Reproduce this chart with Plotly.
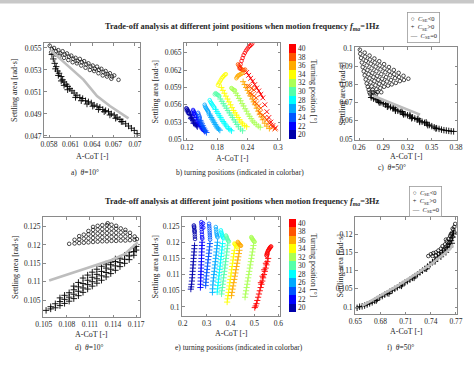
import plotly.graph_objects as go

W, H = 474, 368
FONT = "Liberation Serif, Times New Roman, serif"
TXT = "#262626"
AX_COL = "#8a8a8a"
GRAY_LINE = "#bdbdbd"

# ---------------- tick labels ----------------
A_XT = [0.058, 0.061, 0.064, 0.067, 0.070]
A_XL = ["0.058", "0.061", "0.064", "0.067", "0.07"]
A_YT = [0.047, 0.049, 0.051, 0.053, 0.055]
A_YL = ["0.047", "0.049", "0.051", "0.053", "0.055"]
B_XT = [0.12, 0.18, 0.24, 0.30]
B_XL = ["0.12", "0.18", "0.24", "0.3"]
B_YT = [0.050, 0.053, 0.056, 0.059, 0.062, 0.065]
B_YL = ["0.05", "0.053", "0.056", "0.059", "0.062", "0.065"]
C_XT = [0.26, 0.29, 0.32, 0.35, 0.38]
C_XL = ["0.26", "0.29", "0.32", "0.35", "0.38"]
C_YT = [0.05, 0.06, 0.07, 0.08, 0.09, 0.10]
C_YL = ["0.05", "0.06", "0.07", "0.08", "0.09", "0.1"]
D_XT = [0.105, 0.108, 0.111, 0.114, 0.117]
D_XL = ["0.105", "0.108", "0.111", "0.114", "0.117"]
D_YT = [0.105, 0.110, 0.115, 0.120, 0.125]
D_YL = ["0.105", "0.11", "0.115", "0.12", "0.125"]
E_XT = [0.2, 0.3, 0.4, 0.5, 0.6]
E_XL = ["0.2", "0.3", "0.4", "0.5", "0.6"]
E_YT = [0.100, 0.105, 0.110, 0.115, 0.120, 0.125]
E_YL = ["0.1", "0.105", "0.11", "0.115", "0.12", "0.125"]
F_XT = [0.65, 0.68, 0.71, 0.74, 0.77]
F_XL = ["0.65", "0.68", "0.71", "0.74", "0.77"]
F_YT = [0.100, 0.105, 0.110, 0.115, 0.120]
F_YL = ["0.1", "0.105", "0.11", "0.115", "0.12"]
CB_T = [20, 22, 24, 26, 28, 30, 32, 34, 36, 38, 40]

# ---------------- panel a (1Hz, theta=10) ----------------
A_CIRC = [(0.0581, 0.0552), (0.0587, 0.0550), (0.0593, 0.0548), (0.0599, 0.0547), (0.0605, 0.0545),
          (0.0611, 0.0543), (0.0617, 0.0541), (0.0623, 0.0540), (0.0629, 0.0538), (0.0635, 0.0536),
          (0.0641, 0.0534), (0.0647, 0.0533), (0.0653, 0.0531), (0.0659, 0.0529), (0.0665, 0.0527),
          (0.0671, 0.0525),
          (0.0584, 0.0549), (0.0590, 0.0547), (0.0596, 0.0545), (0.0602, 0.0544), (0.0608, 0.0542),
          (0.0614, 0.0540), (0.0620, 0.0538), (0.0626, 0.0537), (0.0632, 0.0535), (0.0638, 0.0533),
          (0.0644, 0.0531), (0.0650, 0.0530), (0.0656, 0.0528), (0.0662, 0.0526), (0.0668, 0.0524),
          (0.0583, 0.0546), (0.0589, 0.0544), (0.0595, 0.0543), (0.0601, 0.0541), (0.0607, 0.0539),
          (0.0613, 0.0537), (0.0619, 0.0536), (0.0625, 0.0534), (0.0631, 0.0532), (0.0637, 0.0530),
          (0.0643, 0.0529), (0.0649, 0.0527), (0.0655, 0.0525), (0.0661, 0.0524), (0.0667, 0.0522),
          (0.0677, 0.0521)]
A_PLUS = [(0.0584, 0.0544), (0.0586, 0.0540), (0.0588, 0.0536), (0.0590, 0.0533), (0.0592, 0.0529),
          (0.0594, 0.0527), (0.0597, 0.0524), (0.0599, 0.0521), (0.0601, 0.0519), (0.0604, 0.0517),
          (0.0606, 0.0515), (0.0609, 0.0513), (0.0612, 0.0511),
          (0.0589, 0.0531), (0.0593, 0.0525), (0.0597, 0.0520), (0.0601, 0.0516), (0.0606, 0.0512),
          (0.0615, 0.0509), (0.0619, 0.0507), (0.0623, 0.0505), (0.0627, 0.0504), (0.0631, 0.0502),
          (0.0635, 0.0501), (0.0639, 0.0500), (0.0643, 0.0498), (0.0647, 0.0497), (0.0651, 0.0496),
          (0.0655, 0.0494), (0.0659, 0.0493), (0.0663, 0.0492), (0.0667, 0.0490), (0.0671, 0.0489),
          (0.0675, 0.0487), (0.0679, 0.0485), (0.0683, 0.0483), (0.0687, 0.0481), (0.0691, 0.0479),
          (0.0695, 0.0477), (0.0699, 0.0475), (0.0703, 0.0472),
          (0.0617, 0.0505), (0.0625, 0.0502), (0.0633, 0.0499), (0.0641, 0.0497), (0.0649, 0.0494),
          (0.0657, 0.0492), (0.0665, 0.0489), (0.0673, 0.0486), (0.0681, 0.0483)]
A_LINE = [(0.0582, 0.0548), (0.0605, 0.05347), (0.0628, 0.05212), (0.0647, 0.05062),
          (0.0665, 0.04972), (0.0691, 0.04859)]

# ---------------- panel b (1Hz, turning positions) ----------------
B_O_20 = [(0.1187, 0.0554), (0.1200, 0.0553), (0.1212, 0.0551), (0.1225, 0.0549), (0.1238, 0.0547),
          (0.1250, 0.0545), (0.1195, 0.0550), (0.1220, 0.0546)]
B_P_20 = [(0.1262, 0.0543), (0.1275, 0.0541), (0.1290, 0.0538), (0.1305, 0.0535), (0.1320, 0.0533),
          (0.1338, 0.0530), (0.1355, 0.0528), (0.1372, 0.0526), (0.1390, 0.0524), (0.1405, 0.0522),
          (0.1280, 0.0536), (0.1330, 0.0528)]
B_O_22 = [(0.1320, 0.0551), (0.1330, 0.0549), (0.1340, 0.0547), (0.1350, 0.0545), (0.1360, 0.0543),
          (0.1372, 0.0541), (0.1335, 0.0544)]
B_P_22 = [(0.1385, 0.0538), (0.1400, 0.0535), (0.1415, 0.0532), (0.1430, 0.0529), (0.1445, 0.0527),
          (0.1460, 0.0524), (0.1475, 0.0522), (0.1490, 0.0520), (0.1510, 0.0518), (0.1530, 0.0516),
          (0.1550, 0.0514)]
B_O_24 = [(0.1420, 0.0546), (0.1432, 0.0543), (0.1445, 0.0540), (0.1455, 0.0537)]
B_P_24 = [(0.1465, 0.0533), (0.1480, 0.0530), (0.1495, 0.0527), (0.1510, 0.0524), (0.1525, 0.0521),
          (0.1545, 0.0518), (0.1565, 0.0515), (0.1585, 0.0512)]
B_O_26 = [(0.1550, 0.0560), (0.1560, 0.0557), (0.1572, 0.0555), (0.1585, 0.0553), (0.1600, 0.0551),
          (0.1615, 0.0549), (0.1630, 0.0547)]
B_P_26 = [(0.1645, 0.0544), (0.1660, 0.0541), (0.1680, 0.0538), (0.1700, 0.0535), (0.1720, 0.0532),
          (0.1740, 0.0529), (0.1760, 0.0526), (0.1780, 0.0523), (0.1800, 0.0520), (0.1825, 0.0518),
          (0.1850, 0.0516)]
B_O_28 = [(0.1650, 0.0568), (0.1665, 0.0565), (0.1680, 0.0563), (0.1695, 0.0561), (0.1710, 0.0559),
          (0.1725, 0.0557), (0.1745, 0.0555)]
B_P_28 = [(0.1765, 0.0552), (0.1790, 0.0548), (0.1815, 0.0545), (0.1840, 0.0541), (0.1865, 0.0538),
          (0.1890, 0.0534), (0.1915, 0.0531), (0.1940, 0.0528), (0.1965, 0.0525), (0.1990, 0.0522),
          (0.2020, 0.0519), (0.2050, 0.0517), (0.2080, 0.0515)]
B_O_30 = [(0.1750, 0.0578), (0.1765, 0.0580), (0.1780, 0.0579), (0.1795, 0.0578), (0.1810, 0.0577),
          (0.1825, 0.0576), (0.1840, 0.0575)]
B_P_30 = [(0.1860, 0.0570), (0.1890, 0.0566), (0.1920, 0.0562), (0.1950, 0.0558), (0.1980, 0.0554),
          (0.2010, 0.0550), (0.2040, 0.0546), (0.2070, 0.0542), (0.2100, 0.0538), (0.2130, 0.0534),
          (0.2160, 0.0530), (0.2190, 0.0526), (0.2220, 0.0522), (0.2260, 0.0518), (0.2300, 0.0515)]
B_O_32 = [(0.2077, 0.0589), (0.2090, 0.0588), (0.2105, 0.0587), (0.2120, 0.0586), (0.2135, 0.0585),
          (0.2150, 0.0585)]
B_P_32 = [(0.2170, 0.0580), (0.2200, 0.0576), (0.2230, 0.0571), (0.2260, 0.0567), (0.2290, 0.0562),
          (0.2320, 0.0558), (0.2350, 0.0553), (0.2380, 0.0549), (0.2410, 0.0544), (0.2440, 0.0540),
          (0.2470, 0.0536), (0.2500, 0.0532), (0.2530, 0.0529), (0.2570, 0.0526), (0.2610, 0.0523),
          (0.2650, 0.0521)]
B_O_34 = [(0.1813, 0.0594), (0.1830, 0.0597), (0.1850, 0.0600), (0.1870, 0.0603), (0.1890, 0.0606),
          (0.1910, 0.0608), (0.1930, 0.0610), (0.1950, 0.0612), (0.1970, 0.0613)]
B_P_34 = [(0.1880, 0.0590), (0.1910, 0.0585), (0.1940, 0.0580), (0.1970, 0.0575), (0.2000, 0.0570),
          (0.2030, 0.0565), (0.2060, 0.0560), (0.2090, 0.0555), (0.2120, 0.0550), (0.2150, 0.0546),
          (0.2180, 0.0542), (0.2210, 0.0538), (0.2240, 0.0534), (0.2270, 0.0530), (0.2300, 0.0527),
          (0.2340, 0.0524), (0.2380, 0.0522)]
B_O_36 = [(0.2176, 0.0606), (0.2190, 0.0608), (0.2205, 0.0610), (0.2220, 0.0611), (0.2240, 0.0612),
          (0.2260, 0.0613), (0.2280, 0.0614), (0.2300, 0.0615)]
B_P_36 = [(0.2310, 0.0600), (0.2340, 0.0595), (0.2370, 0.0590), (0.2400, 0.0585), (0.2430, 0.0580),
          (0.2460, 0.0575), (0.2490, 0.0570), (0.2520, 0.0565), (0.2550, 0.0560), (0.2580, 0.0554),
          (0.2610, 0.0549), (0.2640, 0.0544), (0.2670, 0.0539), (0.2700, 0.0534), (0.2740, 0.0528),
          (0.2780, 0.0523), (0.2830, 0.0519)]
B_O_38 = [(0.2209, 0.0630), (0.2225, 0.0628), (0.2240, 0.0626), (0.2255, 0.0624), (0.2270, 0.0622),
          (0.2290, 0.0621), (0.2310, 0.0620), (0.2330, 0.0620), (0.2350, 0.0621)]
B_X_38 = [(0.2400, 0.0592), (0.2440, 0.0592), (0.2480, 0.0588), (0.2520, 0.0586), (0.2450, 0.0580),
          (0.2490, 0.0578), (0.2530, 0.0575), (0.2570, 0.0572), (0.2540, 0.0565), (0.2580, 0.0562),
          (0.2620, 0.0558), (0.2660, 0.0554), (0.2640, 0.0546), (0.2700, 0.0542), (0.2740, 0.0538),
          (0.2780, 0.0534), (0.2820, 0.0529), (0.2860, 0.0525), (0.2900, 0.0521), (0.2940, 0.0518)]
B_O_40 = [(0.2242, 0.0623), (0.2260, 0.0630), (0.2280, 0.0636), (0.2300, 0.0641), (0.2320, 0.0646),
          (0.2345, 0.0650), (0.2370, 0.0654), (0.2395, 0.0657), (0.2420, 0.0660), (0.2445, 0.0662),
          (0.2470, 0.0664), (0.2490, 0.0666)]
B_X_40 = [(0.2380, 0.0616), (0.2420, 0.0611), (0.2460, 0.0606), (0.2500, 0.0601), (0.2540, 0.0595),
          (0.2580, 0.0589), (0.2620, 0.0584), (0.2660, 0.0578), (0.2700, 0.0572), (0.2740, 0.0560),
          (0.2780, 0.0548), (0.2820, 0.0538), (0.2860, 0.0530), (0.2900, 0.0524), (0.2950, 0.0520)]
B_LINE_40 = [(0.2374, 0.0617), (0.2710, 0.0572)]

# ---------------- panel c (1Hz, theta=50) ----------------
C_CIRC = [(0.2610, 0.0990), (0.2670, 0.0974), (0.2730, 0.0958), (0.2790, 0.0942), (0.2850, 0.0927),
          (0.2910, 0.0911), (0.2970, 0.0895), (0.3030, 0.0879), (0.3090, 0.0863), (0.3150, 0.0847),
          (0.3210, 0.0831),
          (0.2615, 0.0968), (0.2675, 0.0952), (0.2735, 0.0936), (0.2795, 0.0920), (0.2855, 0.0904),
          (0.2915, 0.0888), (0.2975, 0.0872), (0.3035, 0.0856), (0.3095, 0.0840), (0.3155, 0.0824),
          (0.2625, 0.0945), (0.2685, 0.0929), (0.2745, 0.0913), (0.2805, 0.0897), (0.2865, 0.0882),
          (0.2925, 0.0866), (0.2985, 0.0850), (0.3045, 0.0834), (0.3105, 0.0818),
          (0.2635, 0.0920), (0.2695, 0.0904), (0.2755, 0.0888), (0.2815, 0.0872), (0.2875, 0.0856),
          (0.2935, 0.0840), (0.2995, 0.0824), (0.3055, 0.0808),
          (0.2645, 0.0895), (0.2705, 0.0879), (0.2765, 0.0863), (0.2825, 0.0847), (0.2885, 0.0831),
          (0.2945, 0.0816), (0.3005, 0.0800),
          (0.2658, 0.0872), (0.2718, 0.0856), (0.2778, 0.0840), (0.2838, 0.0825), (0.2898, 0.0809),
          (0.2958, 0.0793),
          (0.2670, 0.0850), (0.2730, 0.0834), (0.2790, 0.0818), (0.2850, 0.0803), (0.2910, 0.0787),
          (0.2683, 0.0827), (0.2743, 0.0811), (0.2803, 0.0795), (0.2863, 0.0780),
          (0.2695, 0.0805), (0.2755, 0.0789), (0.2815, 0.0773), (0.2875, 0.0757),
          (0.2708, 0.0787), (0.2768, 0.0771), (0.2828, 0.0758),
          (0.2720, 0.0770), (0.2770, 0.0757), (0.2810, 0.0746),
          (0.2740, 0.0745), (0.2765, 0.0738), (0.2730, 0.0755), (0.2790, 0.0750)]
C_PLUS = [(0.2750, 0.0728), (0.2780, 0.0722), (0.2810, 0.0716), (0.2840, 0.0708), (0.2870, 0.0701),
          (0.2900, 0.0694), (0.2930, 0.0688), (0.2960, 0.0681), (0.2990, 0.0675), (0.3020, 0.0668),
          (0.3050, 0.0662), (0.3080, 0.0655), (0.3110, 0.0649), (0.3140, 0.0643), (0.3170, 0.0637),
          (0.3200, 0.0631), (0.3230, 0.0625), (0.3260, 0.0619), (0.3290, 0.0613), (0.3320, 0.0607),
          (0.3350, 0.0601), (0.3380, 0.0595), (0.3410, 0.0589), (0.3440, 0.0583), (0.3470, 0.0577),
          (0.3500, 0.0571), (0.3530, 0.0565), (0.3560, 0.0560), (0.3590, 0.0556), (0.3620, 0.0552),
          (0.3650, 0.0549), (0.3680, 0.0547), (0.3710, 0.0545), (0.3740, 0.0543), (0.3770, 0.0542),
          (0.2850, 0.0700), (0.2950, 0.0677), (0.3050, 0.0655), (0.3150, 0.0635), (0.3250, 0.0614),
          (0.3350, 0.0594), (0.3450, 0.0576), (0.3550, 0.0558),
          (0.2830, 0.0715), (0.2930, 0.0694), (0.3030, 0.0672), (0.3130, 0.0651), (0.3230, 0.0632),
          (0.3330, 0.0612), (0.3430, 0.0592)]
C_LINE = [(0.2774, 0.0738), (0.3000, 0.0697), (0.3355, 0.0634)]

# ---------------- panel d (3Hz, theta=10) ----------------
D_CIRC = [(0.1083, 0.1203),
          (0.1090, 0.1204), (0.1090, 0.1214),
          (0.1096, 0.1205), (0.1096, 0.1215), (0.1096, 0.1224),
          (0.1102, 0.1206), (0.1102, 0.1217), (0.1102, 0.1228),
          (0.1108, 0.1207), (0.1108, 0.1218), (0.1108, 0.1229), (0.1108, 0.1238),
          (0.1114, 0.1208), (0.1114, 0.1219), (0.1114, 0.1230), (0.1114, 0.1241), (0.1114, 0.1249),
          (0.1120, 0.1209), (0.1120, 0.1220), (0.1120, 0.1231), (0.1120, 0.1242), (0.1120, 0.1252),
          (0.1126, 0.1210), (0.1126, 0.1221), (0.1126, 0.1232), (0.1126, 0.1243), (0.1126, 0.1254),
          (0.1132, 0.1210), (0.1132, 0.1221), (0.1132, 0.1232), (0.1132, 0.1243), (0.1132, 0.1254),
          (0.1133, 0.1259),
          (0.1138, 0.1211), (0.1138, 0.1222), (0.1138, 0.1233), (0.1138, 0.1244), (0.1138, 0.1255),
          (0.1144, 0.1211), (0.1144, 0.1222), (0.1144, 0.1233), (0.1144, 0.1244), (0.1144, 0.1252),
          (0.1150, 0.1212), (0.1150, 0.1223), (0.1150, 0.1234), (0.1150, 0.1245),
          (0.1156, 0.1212), (0.1156, 0.1223), (0.1156, 0.1234), (0.1156, 0.1241),
          (0.1162, 0.1213), (0.1162, 0.1224), (0.1162, 0.1233),
          (0.1168, 0.1214), (0.1168, 0.1223), (0.1171, 0.1216)]
D_PLUS = [(0.1053, 0.1022),
          (0.1059, 0.1026), (0.1059, 0.1032),
          (0.1065, 0.1029), (0.1065, 0.1040),
          (0.1071, 0.1035), (0.1071, 0.1046), (0.1071, 0.1056),
          (0.1077, 0.1041), (0.1077, 0.1052), (0.1077, 0.1063),
          (0.1083, 0.1047), (0.1083, 0.1058), (0.1083, 0.1070),
          (0.1089, 0.1054), (0.1089, 0.1066), (0.1089, 0.1078), (0.1089, 0.1088),
          (0.1095, 0.1062), (0.1095, 0.1074), (0.1095, 0.1086), (0.1095, 0.1098),
          (0.1101, 0.1071), (0.1101, 0.1083), (0.1101, 0.1095), (0.1101, 0.1110),
          (0.1107, 0.1080), (0.1107, 0.1092), (0.1107, 0.1104), (0.1107, 0.1118),
          (0.1113, 0.1088), (0.1113, 0.1100), (0.1113, 0.1112), (0.1113, 0.1126),
          (0.1119, 0.1096), (0.1119, 0.1108), (0.1119, 0.1120), (0.1119, 0.1134),
          (0.1125, 0.1104), (0.1125, 0.1116), (0.1125, 0.1128), (0.1125, 0.1142),
          (0.1131, 0.1113), (0.1131, 0.1125), (0.1131, 0.1137), (0.1131, 0.1148),
          (0.1137, 0.1122), (0.1137, 0.1134), (0.1137, 0.1146), (0.1137, 0.1153),
          (0.1143, 0.1131), (0.1143, 0.1143), (0.1143, 0.1155), (0.1143, 0.1162),
          (0.1149, 0.1141), (0.1149, 0.1152), (0.1149, 0.1164),
          (0.1155, 0.1150), (0.1155, 0.1161), (0.1155, 0.1172),
          (0.1161, 0.1160), (0.1161, 0.1170), (0.1161, 0.1180),
          (0.1167, 0.1172), (0.1167, 0.1182), (0.1167, 0.1192),
          (0.1170, 0.1186), (0.1170, 0.1196)]
D_LINE = [(0.1057, 0.1103), (0.1104, 0.1135), (0.1138, 0.1159), (0.1155, 0.1175), (0.1172, 0.1207)]

# ---------------- panel e (3Hz, turning positions) ----------------
E_O_20 = [(0.2466, 0.1252), (0.2480, 0.1245), (0.2490, 0.1238), (0.2500, 0.1231), (0.2505, 0.1224),
          (0.2510, 0.1217), (0.2515, 0.1210), (0.2475, 0.1248), (0.2495, 0.1234)]
E_P_20 = [(0.2495, 0.1190), (0.2485, 0.1180), (0.2475, 0.1170), (0.2465, 0.1160), (0.2455, 0.1150),
          (0.2445, 0.1140), (0.2435, 0.1130), (0.2425, 0.1120), (0.2415, 0.1110), (0.2405, 0.1100),
          (0.2395, 0.1090), (0.2385, 0.1080), (0.2370, 0.1070), (0.2355, 0.1062), (0.2340, 0.1055)]
E_O_22 = [(0.2777, 0.1262), (0.2785, 0.1255), (0.2790, 0.1248), (0.2795, 0.1240), (0.2800, 0.1232),
          (0.2805, 0.1224), (0.2810, 0.1216), (0.2820, 0.1211), (0.2850, 0.1258), (0.2860, 0.1245)]
E_P_22 = [(0.2810, 0.1200), (0.2805, 0.1190), (0.2800, 0.1180), (0.2795, 0.1170), (0.2790, 0.1160),
          (0.2785, 0.1150), (0.2780, 0.1140), (0.2775, 0.1130), (0.2770, 0.1120), (0.2765, 0.1110),
          (0.2760, 0.1100), (0.2755, 0.1090), (0.2750, 0.1080), (0.2745, 0.1070), (0.2740, 0.1060)]
E_O_24 = [(0.3102, 0.1257), (0.3110, 0.1250), (0.3118, 0.1243), (0.3125, 0.1236), (0.3130, 0.1229),
          (0.3135, 0.1222), (0.3140, 0.1215), (0.3145, 0.1208)]
E_P_24 = [(0.3140, 0.1196), (0.3125, 0.1186), (0.3110, 0.1176), (0.3095, 0.1166), (0.3080, 0.1156),
          (0.3065, 0.1146), (0.3050, 0.1136), (0.3035, 0.1126), (0.3020, 0.1116), (0.3005, 0.1106),
          (0.2990, 0.1096), (0.2980, 0.1086), (0.2970, 0.1076), (0.2960, 0.1066)]
E_O_26 = [(0.3385, 0.1247), (0.3395, 0.1240), (0.3405, 0.1233), (0.3415, 0.1227), (0.3430, 0.1222),
          (0.3445, 0.1218), (0.3460, 0.1215)]
E_P_26 = [(0.3455, 0.1200), (0.3440, 0.1190), (0.3425, 0.1180), (0.3410, 0.1170), (0.3395, 0.1160),
          (0.3380, 0.1150), (0.3365, 0.1140), (0.3350, 0.1130), (0.3335, 0.1120), (0.3320, 0.1110),
          (0.3305, 0.1100), (0.3290, 0.1090), (0.3275, 0.1080), (0.3260, 0.1068), (0.3250, 0.1056),
          (0.3243, 0.1045)]
E_O_28 = [(0.3597, 0.1237), (0.3610, 0.1232), (0.3625, 0.1228), (0.3640, 0.1224), (0.3655, 0.1220),
          (0.3670, 0.1217), (0.3690, 0.1214), (0.3710, 0.1212)]
E_P_28 = [(0.3667, 0.1196), (0.3652, 0.1186), (0.3637, 0.1176), (0.3622, 0.1166), (0.3607, 0.1156),
          (0.3592, 0.1146), (0.3577, 0.1136), (0.3562, 0.1126), (0.3547, 0.1116), (0.3532, 0.1106),
          (0.3517, 0.1096), (0.3502, 0.1086), (0.3487, 0.1076), (0.3472, 0.1066), (0.3457, 0.1056),
          (0.3442, 0.1046)]
E_O_30 = [(0.3809, 0.1221), (0.3825, 0.1218), (0.3840, 0.1215), (0.3855, 0.1212), (0.3870, 0.1209),
          (0.3890, 0.1206), (0.3910, 0.1204), (0.3930, 0.1202)]
E_P_30 = [(0.3879, 0.1191), (0.3862, 0.1180), (0.3845, 0.1170), (0.3828, 0.1160), (0.3811, 0.1150),
          (0.3794, 0.1140), (0.3777, 0.1130), (0.3760, 0.1120), (0.3743, 0.1110), (0.3726, 0.1100),
          (0.3709, 0.1090), (0.3692, 0.1080), (0.3675, 0.1070), (0.3658, 0.1060), (0.3641, 0.1050),
          (0.3625, 0.1040)]
E_O_32 = [(0.4868, 0.1216), (0.4885, 0.1214), (0.4900, 0.1212), (0.4915, 0.1210), (0.4930, 0.1208),
          (0.4950, 0.1206), (0.4970, 0.1204), (0.4990, 0.1202), (0.5010, 0.1201)]
E_P_32 = [(0.4960, 0.1190), (0.4938, 0.1180), (0.4916, 0.1170), (0.4894, 0.1160), (0.4872, 0.1150),
          (0.4850, 0.1140), (0.4828, 0.1130), (0.4806, 0.1120), (0.4784, 0.1110), (0.4762, 0.1100),
          (0.4740, 0.1090), (0.4718, 0.1080), (0.4696, 0.1070), (0.4674, 0.1060), (0.4652, 0.1050),
          (0.4630, 0.1040), (0.4608, 0.1030)]
E_O_34 = [(0.4162, 0.1196), (0.4180, 0.1194), (0.4200, 0.1192), (0.4220, 0.1190), (0.4240, 0.1188),
          (0.4260, 0.1186), (0.4280, 0.1184)]
E_P_34 = [(0.4162, 0.1175), (0.4143, 0.1165), (0.4124, 0.1155), (0.4105, 0.1145), (0.4086, 0.1135),
          (0.4067, 0.1125), (0.4048, 0.1115), (0.4029, 0.1105), (0.4010, 0.1095), (0.3991, 0.1085),
          (0.3972, 0.1075), (0.3953, 0.1065), (0.3934, 0.1055), (0.3915, 0.1045), (0.3896, 0.1035),
          (0.3877, 0.1025), (0.3858, 0.1015)]
E_O_36 = [(0.4303, 0.1201), (0.4320, 0.1199), (0.4340, 0.1197), (0.4360, 0.1195), (0.4380, 0.1193),
          (0.4400, 0.1191), (0.4420, 0.1190), (0.4440, 0.1189)]
E_P_36 = [(0.4374, 0.1175), (0.4350, 0.1165), (0.4326, 0.1155), (0.4302, 0.1145), (0.4278, 0.1135),
          (0.4254, 0.1125), (0.4230, 0.1115), (0.4206, 0.1105), (0.4182, 0.1095), (0.4158, 0.1085),
          (0.4134, 0.1075), (0.4110, 0.1065), (0.4086, 0.1055), (0.4062, 0.1045), (0.4040, 0.1035)]
E_O_40 = [(0.5504, 0.1160), (0.5520, 0.1165), (0.5540, 0.1168), (0.5560, 0.1172), (0.5580, 0.1175),
          (0.5600, 0.1177), (0.5620, 0.1180), (0.5640, 0.1182), (0.5660, 0.1184), (0.5680, 0.1186),
          (0.5700, 0.1187), (0.5520, 0.1158), (0.5550, 0.1163)]
E_P_40 = [(0.5575, 0.1150), (0.5540, 0.1140), (0.5505, 0.1130), (0.5470, 0.1120), (0.5435, 0.1110),
          (0.5400, 0.1100), (0.5365, 0.1090), (0.5330, 0.1080), (0.5295, 0.1070), (0.5260, 0.1060),
          (0.5225, 0.1050), (0.5190, 0.1040), (0.5155, 0.1030), (0.5120, 0.1020), (0.5085, 0.1010),
          (0.5050, 0.1003), (0.5015, 0.0998), (0.5480, 0.1135), (0.5410, 0.1115), (0.5340, 0.1095),
          (0.5270, 0.1075)]

# ---------------- panel f (3Hz, theta=50) ----------------
F_PLUS = [(0.6520, 0.0998), (0.6550, 0.1001), (0.6580, 0.1002), (0.6610, 0.1004), (0.6640, 0.1007),
          (0.6670, 0.1010), (0.6700, 0.1013), (0.6730, 0.1017), (0.6760, 0.1022), (0.6790, 0.1027),
          (0.6820, 0.1030), (0.6850, 0.1034), (0.6880, 0.1038), (0.6910, 0.1042), (0.6940, 0.1046),
          (0.6970, 0.1050), (0.7000, 0.1054), (0.7030, 0.1059), (0.7060, 0.1063), (0.7090, 0.1067),
          (0.7120, 0.1071), (0.7150, 0.1075), (0.7180, 0.1080), (0.7210, 0.1085), (0.7240, 0.1090),
          (0.7270, 0.1095), (0.7300, 0.1100), (0.7330, 0.1105), (0.7360, 0.1111), (0.7390, 0.1117),
          (0.7420, 0.1123), (0.7450, 0.1129), (0.7480, 0.1135), (0.7510, 0.1142), (0.7540, 0.1149),
          (0.7570, 0.1156), (0.7600, 0.1163), (0.7620, 0.1172), (0.7640, 0.1182), (0.7660, 0.1192),
          (0.7670, 0.1203),
          (0.6750, 0.1018), (0.6900, 0.1037), (0.7050, 0.1058), (0.7200, 0.1080), (0.7350, 0.1105),
          (0.7450, 0.1125), (0.7520, 0.1138), (0.7580, 0.1150), (0.7630, 0.1165), (0.7650, 0.1175)]
F_CIRC = [(0.7370, 0.1140), (0.7400, 0.1145), (0.7430, 0.1148), (0.7420, 0.1140), (0.7460, 0.1150),
          (0.7460, 0.1142), (0.7490, 0.1155), (0.7490, 0.1146), (0.7520, 0.1160), (0.7520, 0.1150),
          (0.7540, 0.1167), (0.7550, 0.1157), (0.7570, 0.1172), (0.7570, 0.1163), (0.7590, 0.1180),
          (0.7600, 0.1170), (0.7610, 0.1187), (0.7620, 0.1177), (0.7630, 0.1195), (0.7640, 0.1185),
          (0.7650, 0.1203), (0.7660, 0.1193), (0.7670, 0.1212), (0.7680, 0.1220), (0.7690, 0.1228),
          (0.7680, 0.1205), (0.7660, 0.1215), (0.7640, 0.1200), (0.7580, 0.1185)]
F_LINE = [(0.6578, 0.1003), (0.7000, 0.1058), (0.7400, 0.1117), (0.7634, 0.1160), (0.7660, 0.1172)]

# ---------------- style ----------------
JET11 = ["#0000aa", "#0000ff", "#0055ff", "#00aaff", "#00ffff", "#55ffaa",
         "#aaff55", "#ffff00", "#ffaa00", "#ff5500", "#ff0000"]
CMIN, CMAX = 19, 41


def discrete_scale(colors):
    n = len(colors)
    sc = []
    for i, c in enumerate(colors):
        sc.append([i / n, c])
        sc.append([(i + 1) / n, c])
    return sc


CSCALE = discrete_scale(JET11)


def PX(v):
    return v / W


def PY(v):
    return 1 - v / H


def xs(pts):
    return [p[0] for p in pts]


def ys(pts):
    return [p[1] for p in pts]


fig = go.Figure()

OPEN_CIRC = dict(symbol="circle-open", size=3.6, color="black", line=dict(width=0.7))
PLUS_M = dict(symbol="cross-thin-open", size=4.6, color="black", line=dict(width=0.9))


def black_panel(ax, circ, plus, line):
    xa, ya = ax
    fig.add_trace(go.Scatter(x=xs(circ), y=ys(circ), mode="markers", marker=OPEN_CIRC,
                             xaxis=xa, yaxis=ya, showlegend=False, name="C_SE<0"))
    fig.add_trace(go.Scatter(x=xs(plus), y=ys(plus), mode="markers", marker=PLUS_M,
                             xaxis=xa, yaxis=ya, showlegend=False, name="C_SE>0"))
    fig.add_trace(go.Scatter(x=xs(line), y=ys(line), mode="lines",
                             line=dict(color=GRAY_LINE, width=2.6),
                             xaxis=xa, yaxis=ya, showlegend=False, name="C_SE=0"))


black_panel(("x", "y"), A_CIRC, A_PLUS, A_LINE)
black_panel(("x3", "y3"), C_CIRC, C_PLUS, C_LINE)
black_panel(("x4", "y4"), D_CIRC, D_PLUS, D_LINE)
black_panel(("x6", "y6"), F_CIRC, F_PLUS, F_LINE)


def flatten(groups):
    X, Y, T = [], [], []
    for t, pts in groups:
        for p in pts:
            X.append(p[0])
            Y.append(p[1])
            T.append(t)
    return X, Y, T


def colored_panel(ax, circ_groups, plus_groups, x_groups, cb_y, cb_len):
    xa, ya = ax
    cx, cy, ct = flatten(circ_groups)
    px_, py_, pt = flatten(plus_groups)
    fig.add_trace(go.Scatter(
        x=px_, y=py_, mode="markers", xaxis=xa, yaxis=ya, showlegend=False,
        marker=dict(symbol="cross-thin-open", size=4.4, color=pt, colorscale=CSCALE,
                    cmin=CMIN, cmax=CMAX, line=dict(width=0.9))))
    if x_groups:
        xx, xy, xt = flatten(x_groups)
        fig.add_trace(go.Scatter(
            x=xx, y=xy, mode="markers", xaxis=xa, yaxis=ya, showlegend=False,
            marker=dict(symbol="x-thin-open", size=4.8, color=xt, colorscale=CSCALE,
                        cmin=CMIN, cmax=CMAX, line=dict(width=0.9))))
    fig.add_trace(go.Scatter(
        x=cx, y=cy, mode="markers", xaxis=xa, yaxis=ya, showlegend=False,
        marker=dict(symbol="circle-open", size=3.6, color=ct, colorscale=CSCALE,
                    cmin=CMIN, cmax=CMAX, line=dict(width=0.8), showscale=True,
                    colorbar=dict(
                        x=PX(289), xanchor="left", y=PY(cb_y), yanchor="middle",
                        len=cb_len / H, lenmode="fraction", thickness=7, thicknessmode="pixels",
                        outlinewidth=0, tickvals=CB_T, ticktext=[str(t) for t in CB_T],
                        ticks="", tickfont=dict(family=FONT, size=7.5, color=TXT),
                        xpad=0, ypad=0))))


colored_panel(("x2", "y2"),
              [(20, B_O_20), (22, B_O_22), (24, B_O_24), (26, B_O_26), (28, B_O_28), (30, B_O_30),
               (32, B_O_32), (34, B_O_34), (36, B_O_36), (38, B_O_38), (40, B_O_40)],
              [(20, B_P_20), (22, B_P_22), (24, B_P_24), (26, B_P_26), (28, B_P_28), (30, B_P_30),
               (32, B_P_32), (34, B_P_34), (36, B_P_36)],
              [(38, B_X_38), (40, B_X_40)], 91.5, 95)
fig.add_trace(go.Scatter(x=xs(B_LINE_40), y=ys(B_LINE_40), mode="lines", xaxis="x2", yaxis="y2",
                         line=dict(color=JET11[10], width=1), showlegend=False))
colored_panel(("x5", "y5"),
              [(20, E_O_20), (22, E_O_22), (24, E_O_24), (26, E_O_26), (28, E_O_28), (30, E_O_30),
               (32, E_O_32), (34, E_O_34), (36, E_O_36), (40, E_O_40)],
              [(20, E_P_20), (22, E_P_22), (24, E_P_24), (26, E_P_26), (28, E_P_28), (30, E_P_30),
               (32, E_P_32), (34, E_P_34), (36, E_P_36), (40, E_P_40)],
              None, 265.5, 93)


def axis(x0, x1, rng, tv, tt, anchor):
    return dict(domain=[x0, x1], range=rng, tickvals=tv, ticktext=tt, anchor=anchor,
                showline=True, linecolor=AX_COL, linewidth=1, mirror="ticks",
                ticks="inside", ticklen=2.5, tickwidth=0.8, tickcolor=AX_COL,
                showgrid=False, zeroline=False, fixedrange=True, automargin=False,
                ticklabelstandoff=0,
                tickfont=dict(family=FONT, size=7.5, color=TXT))


# pixel boxes of each panel: (left, right, top, bottom)
BOX_A = (44, 140, 43, 137)
BOX_B = (184, 280, 43, 140)
BOX_C = (355, 457, 47, 140)
BOX_D = (43, 140, 217, 317)
BOX_E = (182, 280, 217, 316)
BOX_F = (355, 457, 217, 314)

panels = [
    ("", BOX_A, [0.0573, 0.0707], [0.0469, 0.05545], A_XT, A_XL, A_YT, A_YL),
    ("2", BOX_B, [0.1141, 0.304], [0.0499, 0.0667], B_XT, B_XL, B_YT, B_YL),
    ("3", BOX_C, [0.2550, 0.3812], [0.0495, 0.1005], C_XT, C_XL, C_YT, C_YL),
    ("4", BOX_D, [0.1049, 0.1175], [0.1004, 0.1276], D_XT, D_XL, D_YT, D_YL),
    ("5", BOX_E, [0.197, 0.607], [0.0972, 0.1278], E_XT, E_XL, E_YT, E_YL),
    ("6", BOX_F, [0.6495, 0.7712], [0.0981, 0.1247], F_XT, F_XL, F_YT, F_YL),
]

layout_axes = {}
for sfx, (l, r, t, b), xr, yr, xt, xl, yt, yl in panels:
    layout_axes["xaxis" + sfx] = axis(PX(l), PX(r), xr, xt, xl, "y" + sfx)
    layout_axes["yaxis" + sfx] = axis(PY(b), PY(t), yr, yt, yl, "x" + sfx)

ann = []


def text(x, y, s, size=8, angle=0, xanchor="center", **kw):
    d = dict(x=PX(x), y=PY(y), xref="paper", yref="paper", text=s, showarrow=False,
             xanchor=xanchor, yanchor="middle", textangle=angle,
             font=dict(family=FONT, size=size, color=TXT))
    d.update(kw)
    ann.append(d)


# figure titles
text(243, 27, "<b>Trade-off analysis at different joint positions when motion frequency "
              "<i>f</i><sub><i>ma</i></sub>=1Hz</b>", size=8.3)
text(243, 202, "<b>Trade-off analysis at different joint positions when motion frequency "
               "<i>f</i><sub><i>ma</i></sub>=3Hz</b>", size=8.3)

# axis titles
for (l, r, t, b), ylab_x, xt_y in [(BOX_A, 15, 157), (BOX_B, 155, 158), (BOX_C, 342, 157),
                                   (BOX_D, 15, 334), (BOX_E, 155, 333), (BOX_F, 340, 331)]:
    text((l + r) / 2, xt_y, "A-CoT [-]", size=8)
    text(ylab_x, (t + b) / 2, "Settling area [rad·s]", size=8, angle=-90)

# colorbar titles
text(313, 91.5, "Turning position [°]", size=8, angle=90)
text(313, 265.5, "Turning position [°]", size=8, angle=90)

# sub captions
text(85, 173, "a)  <i>θ</i>=10°", size=7.5)
text(240, 173, "b) turning positions (indicated in colorbar)", size=7.5)
text(392, 167, "c)  <i>θ</i>=50°", size=7.5)
text(89, 347, "d)  <i>θ</i>=10°", size=7.5)
text(239, 347, "e) turning positions (indicated in colorbar)", size=7.5)
text(400, 347, "f)  <i>θ</i>=50°", size=7.5)

# legend boxes
LEG = ("○  <i>C</i><sub>SE</sub><0<br>+  <i>C</i><sub>SE</sub>>0<br>"
       "—  <i>C</i><sub>SE</sub>=0")
text(423.5, 27.5, LEG, size=6.5, align="left", bordercolor="#9a9a9a", borderwidth=0.8,
     borderpad=2, bgcolor="white")
text(425, 201, LEG, size=6.5, align="left", bordercolor="#9a9a9a", borderwidth=0.8,
     borderpad=2, bgcolor="white")

fig.update_layout(
    width=W, height=H, margin=dict(l=0, r=0, t=0, b=0, autoexpand=False),
    paper_bgcolor="white", plot_bgcolor="white",
    showlegend=False, annotations=ann,
    shapes=[dict(type="rect", xref="paper", yref="paper", x0=0, x1=1, y0=PY(3.5), y1=1,
                 fillcolor="#c8c8c8", line=dict(width=0))],
    **layout_axes,
)

fig.write_html("out.html", include_plotlyjs=True, config={"displayModeBar": False},
               post_script="document.body.style.margin='0px';document.body.style.overflow='hidden';")
